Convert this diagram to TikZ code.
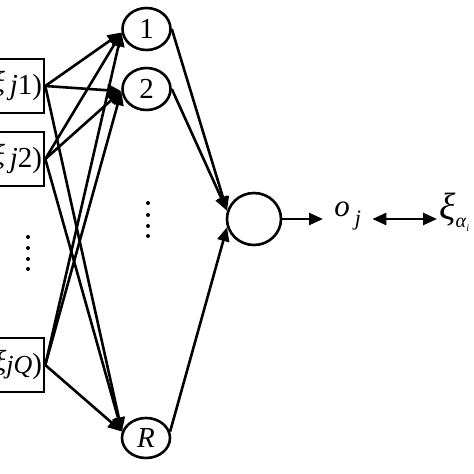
\documentclass[tikz,border=0pt]{standalone}
\usepackage{fontspec}
\setmainfont{Liberation Serif}
\usetikzlibrary{shapes.geometric,arrows.meta}
\begin{document}
\begin{tikzpicture}[x=1pt,y=-1pt, line width=2.6pt,
 inbox/.style={draw, minimum width=60pt, minimum height=54pt, text width=56pt, align=right, inner xsep=2pt, inner ysep=0pt, font=\fontsize{29}{32}\selectfont},
 neuron/.style={draw, ellipse, inner sep=0pt, minimum width=48pt, minimum height=42pt, font=\fontsize{29}{32}\selectfont},
 arr/.style={-{Triangle[length=14pt,width=12pt]}},
 darr/.style={{Triangle[length=14pt,width=12pt]}-{Triangle[length=14pt,width=12pt]}},
 dot/.style={circle, fill, inner sep=0pt, minimum size=4pt},
 lab/.style={inner ysep=0pt, font=\fontsize{31}{34}\selectfont}]
\useasboundingbox (0,0) rectangle (474,474);
\clip (0,0) rectangle (474,474);
% input boxes
\node[inbox] (x1) at (14,86) {\textit{ξ}\,\raisebox{-0.1em}{\textit{j}1)}};
\node[inbox] (x2) at (14,159) {\textit{ξ}\,\raisebox{-0.1em}{\textit{j}2)}};
\node[inbox] (x3) at (14,365) {\textit{ξ}\raisebox{-0.1em}{{\fontsize{26}{30}\selectfont\textit{jQ}})}};
% hidden neurons
\node[neuron] (c1) at (146.5,29) {1};
\node[neuron] (c2) at (146.5,89) {2};
\node[neuron, minimum height=40pt] (cR) at (146,438) {\textit{R}};
% output neuron
\node[neuron, minimum width=54pt, minimum height=52pt] (out) at (254,219) {};
% labels
\node[lab, anchor=west, inner xsep=10pt] (oj) at (323,216) {\textit{o}\,\raisebox{-0.3em}{\fontsize{22}{24}\selectfont\textit{j}}};
\node[lab, anchor=west, inner xsep=1pt] (xi) at (437,212) {{\fontsize{38}{40}\selectfont\textit{ξ}}\raisebox{-0.25em}{\fontsize{20}{22}\selectfont\textit{α}\raisebox{-0.2em}{\fontsize{10}{11}\selectfont\textit{i}}}};
% dots
\foreach \yy [count=\k] in {237,248,259,269} \node[dot] (ld\k) at (28,\yy) {};
\foreach \yy [count=\k] in {203,215,226,236} \node[dot] (md\k) at (148,\yy) {};
% connections
\foreach \s in {x1,x2,x3} {
  \draw[arr] (\s.east) -- (c1.188);
  \draw[arr] (\s.east) -- (c2.185);
  \draw[arr] (\s.east) -- (cR.165);
}
\draw[arr] (c1.east) -- (out.163);
\draw[arr] (c2.east) -- (out.163);
\draw[arr] (cR.15) -- (out.197);
\draw[arr] (out.east) -- (out.east -| oj.west);
\draw[darr] (oj.east |- out.east) -- (out.east -| xi.west);
\end{tikzpicture}
\end{document}
